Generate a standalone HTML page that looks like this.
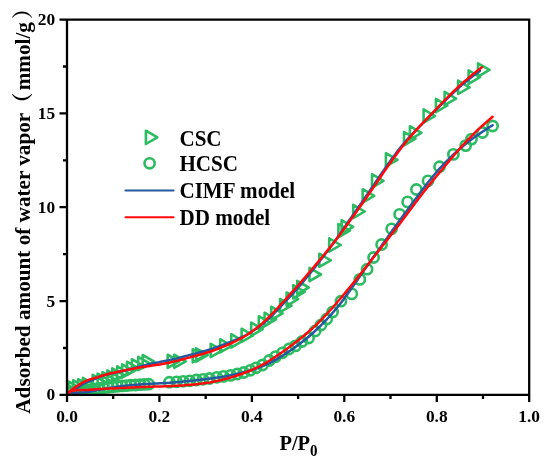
<!DOCTYPE html>
<html lang="en"><head><meta charset="utf-8"><title>Water vapor adsorption isotherms</title>
<style>html,body{margin:0;padding:0;background:#fff}body{width:550px;height:462px;overflow:hidden}svg{display:block}</style></head>
<body>
<svg width="550" height="462" viewBox="0 0 550 462">
<rect width="550" height="462" fill="#fff"/>
<defs><clipPath id="pc"><rect x="67.0" y="19.6" width="462.2" height="375.3"/></clipPath></defs>
<g clip-path="url(#pc)" fill="none" stroke-linejoin="round" stroke-linecap="round">
<path stroke="#2dbb62" stroke-width="2.6" d="M63.7,382.5 L75.2,389.1 L63.7,395.8Z M68.5,381.5 L80.0,388.1 L68.5,394.8Z M73.3,380.4 L84.8,387.0 L73.3,393.7Z M78.1,379.2 L89.6,385.9 L78.1,392.5Z M82.9,377.9 L94.4,384.6 L82.9,391.2Z M92.7,374.8 L104.2,381.4 L92.7,388.1Z M97.6,373.5 L109.1,380.2 L97.6,386.8Z M102.5,372.2 L114.0,378.8 L102.5,385.5Z M107.4,370.4 L118.9,377.1 L107.4,383.7Z M112.3,368.4 L123.8,375.0 L112.3,381.7Z M117.2,366.3 L128.7,373.0 L117.2,379.6Z M122.1,364.4 L133.6,371.0 L122.1,377.7Z M127.0,361.7 L138.5,368.4 L127.0,375.0Z M131.9,359.2 L143.4,365.8 L131.9,372.5Z M138.2,356.9 L149.7,363.5 L138.2,370.1Z M142.7,355.0 L154.2,361.6 L142.7,368.2Z M167.7,354.7 L179.2,361.3 L167.7,367.9Z M174.2,354.7 L185.7,361.3 L174.2,367.9Z M192.7,349.2 L204.2,355.8 L192.7,362.4Z M196.2,348.4 L207.7,355.0 L196.2,361.6Z M210.7,343.9 L222.2,350.5 L210.7,357.1Z M220.2,339.2 L231.7,345.8 L220.2,352.4Z M231.2,334.2 L242.7,340.9 L231.2,347.5Z M241.6,328.7 L253.1,335.3 L241.6,341.9Z M251.2,322.6 L262.7,329.2 L251.2,335.8Z M258.8,316.2 L270.3,322.9 L258.8,329.5Z M264.6,312.7 L276.1,319.3 L264.6,325.9Z M271.2,306.7 L282.7,313.3 L271.2,319.9Z M280.1,299.0 L291.6,305.6 L280.1,312.2Z M286.6,292.5 L298.1,299.1 L286.6,305.8Z M293.2,285.2 L304.7,291.9 L293.2,298.5Z M297.2,280.9 L308.7,287.5 L297.2,294.1Z M309.5,267.9 L321.0,274.5 L309.5,281.1Z M319.3,253.7 L330.8,260.3 L319.3,266.9Z M329.2,238.3 L340.7,245.0 L329.2,251.7Z M338.4,224.0 L349.9,230.7 L338.4,237.3Z M341.6,220.2 L353.1,226.8 L341.6,233.5Z M353.2,204.8 L364.7,211.5 L353.2,218.2Z M362.7,189.2 L374.2,195.9 L362.7,202.6Z M372.0,174.2 L383.5,180.9 L372.0,187.6Z M385.9,153.2 L397.4,159.8 L385.9,166.5Z M404.0,132.0 L415.5,138.7 L404.0,145.3Z M409.9,126.2 L421.4,132.9 L409.9,139.6Z M423.6,109.3 L435.1,116.0 L423.6,122.7Z M435.9,98.8 L447.4,105.5 L435.9,112.2Z M444.6,91.9 L456.1,98.6 L444.6,105.2Z M458.1,80.6 L469.6,87.3 L458.1,94.0Z M468.6,70.4 L480.1,77.1 L468.6,83.8Z M478.0,63.3 L489.5,69.9 L478.0,76.6Z"/>
<g stroke="#2dbb62" stroke-width="2.6"><circle cx="67.8" cy="392.7" r="5.1"/><circle cx="72.3" cy="392.1" r="5.1"/><circle cx="76.8" cy="391.4" r="5.1"/><circle cx="81.3" cy="390.8" r="5.1"/><circle cx="85.8" cy="390.2" r="5.1"/><circle cx="90.3" cy="389.6" r="5.1"/><circle cx="94.8" cy="389.0" r="5.1"/><circle cx="99.3" cy="388.4" r="5.1"/><circle cx="103.8" cy="387.8" r="5.1"/><circle cx="108.3" cy="387.3" r="5.1"/><circle cx="112.8" cy="386.8" r="5.1"/><circle cx="117.3" cy="386.3" r="5.1"/><circle cx="121.8" cy="385.9" r="5.1"/><circle cx="126.3" cy="385.6" r="5.1"/><circle cx="130.8" cy="385.2" r="5.1"/><circle cx="135.3" cy="385.0" r="5.1"/><circle cx="139.8" cy="384.7" r="5.1"/><circle cx="144.3" cy="384.4" r="5.1"/><circle cx="148.8" cy="384.2" r="5.1"/><circle cx="169.4" cy="382.2" r="5.1"/><circle cx="176.6" cy="381.8" r="5.1"/><circle cx="183.2" cy="381.3" r="5.1"/><circle cx="189.7" cy="380.8" r="5.1"/><circle cx="196.4" cy="380.0" r="5.1"/><circle cx="203.0" cy="379.3" r="5.1"/><circle cx="209.5" cy="378.5" r="5.1"/><circle cx="216.8" cy="377.3" r="5.1"/><circle cx="223.4" cy="376.4" r="5.1"/><circle cx="230.6" cy="375.4" r="5.1"/><circle cx="237.2" cy="374.0" r="5.1"/><circle cx="243.7" cy="372.5" r="5.1"/><circle cx="250.3" cy="370.3" r="5.1"/><circle cx="256.1" cy="367.8" r="5.1"/><circle cx="262.6" cy="365.0" r="5.1"/><circle cx="269.3" cy="360.5" r="5.1"/><circle cx="275.6" cy="356.6" r="5.1"/><circle cx="282.5" cy="352.8" r="5.1"/><circle cx="289.0" cy="349.0" r="5.1"/><circle cx="295.5" cy="345.9" r="5.1"/><circle cx="302.0" cy="341.5" r="5.1"/><circle cx="308.6" cy="338.0" r="5.1"/><circle cx="315.2" cy="331.0" r="5.1"/><circle cx="321.0" cy="325.0" r="5.1"/><circle cx="326.8" cy="319.0" r="5.1"/><circle cx="332.6" cy="312.0" r="5.1"/><circle cx="340.9" cy="301.2" r="5.1"/><circle cx="351.8" cy="293.9" r="5.1"/><circle cx="359.8" cy="279.4" r="5.1"/><circle cx="367.1" cy="269.2" r="5.1"/><circle cx="373.6" cy="257.5" r="5.1"/><circle cx="381.6" cy="244.5" r="5.1"/><circle cx="391.6" cy="228.8" r="5.1"/><circle cx="399.6" cy="214.3" r="5.1"/><circle cx="407.6" cy="201.9" r="5.1"/><circle cx="416.4" cy="189.5" r="5.1"/><circle cx="428.0" cy="180.8" r="5.1"/><circle cx="439.5" cy="166.7" r="5.1"/><circle cx="453.4" cy="154.4" r="5.1"/><circle cx="465.7" cy="145.6" r="5.1"/><circle cx="471.5" cy="139.1" r="5.1"/><circle cx="482.5" cy="132.5" r="5.1"/><circle cx="492.6" cy="126.0" r="5.1"/></g>
<path stroke="#24589f" stroke-width="2.5" d="M67.0,394.9 L67.6,394.3 L68.3,393.7 L68.9,393.2 L68.9,393.1 L69.6,392.6 L70.2,392.1 L70.8,391.6 L70.8,391.6 L71.5,391.1 L72.1,390.6 L72.7,390.2 L72.8,390.2 L73.4,389.8 L74.1,389.4 L74.6,389.1 L74.7,389.0 L75.3,388.7 L76.0,388.3 L76.5,388.1 L76.6,388.0 L77.3,387.6 L77.9,387.2 L78.4,387.0 L78.5,386.9 L79.2,386.5 L79.8,386.0 L80.3,385.8 L80.5,385.6 L81.1,385.2 L81.7,384.8 L82.2,384.6 L82.4,384.4 L83.0,384.1 L83.7,383.7 L84.1,383.5 L84.3,383.4 L84.9,383.1 L85.6,382.8 L85.9,382.6 L86.2,382.5 L86.9,382.2 L87.5,381.9 L87.8,381.8 L88.2,381.7 L88.8,381.4 L89.4,381.1 L89.7,381.0 L90.1,380.9 L90.7,380.7 L91.4,380.4 L91.6,380.3 L92.0,380.2 L94.0,379.3 L96.0,378.4 L98.0,377.5 L100.0,376.7 L102.0,376.0 L104.0,375.4 L106.0,374.8 L108.0,374.2 L110.0,373.7 L112.0,373.2 L114.0,372.8 L116.0,372.4 L118.0,372.0 L120.0,371.5 L122.0,371.1 L124.0,370.7 L126.0,370.2 L128.0,369.8 L130.0,369.3 L132.0,368.8 L134.0,368.2 L136.0,367.6 L138.0,367.0 L140.0,366.5 L142.0,366.0 L144.0,365.5 L146.0,365.0 L148.0,364.5 L150.0,364.1 L152.0,363.6 L154.0,363.2 L156.0,362.8 L158.0,362.4 L160.0,362.0 L162.0,361.6 L164.0,361.2 L166.0,360.8 L168.0,360.4 L170.0,360.0 L172.0,359.5 L174.0,359.1 L176.0,358.6 L178.0,358.1 L180.0,357.6 L182.0,357.0 L184.0,356.5 L186.0,356.0 L188.0,355.5 L190.0,354.9 L192.0,354.4 L194.0,353.9 L196.0,353.4 L198.0,352.9 L200.0,352.3 L202.0,351.8 L204.0,351.2 L206.0,350.6 L208.0,350.0 L210.0,349.4 L212.0,348.8 L214.0,348.1 L216.0,347.4 L218.0,346.7 L220.0,345.9 L222.0,345.2 L224.0,344.4 L226.0,343.6 L228.0,342.8 L230.0,342.1 L232.0,341.3 L234.0,340.5 L236.0,339.7 L238.0,338.9 L240.0,338.0 L242.0,337.1 L244.0,336.1 L246.0,335.1 L248.0,334.0 L250.0,332.8 L252.0,331.5 L254.0,330.2 L256.0,328.9 L258.0,327.4 L260.0,325.9 L262.0,324.4 L264.0,322.8 L266.0,321.1 L268.0,319.3 L270.0,317.5 L272.0,315.5 L274.0,313.5 L276.0,311.4 L278.0,309.4 L280.0,307.3 L282.0,305.2 L284.0,303.0 L286.0,300.9 L288.0,298.7 L290.0,296.6 L292.0,294.4 L294.0,292.1 L296.0,289.9 L298.0,287.7 L300.0,285.4 L302.0,283.1 L304.0,280.7 L306.0,278.3 L308.0,275.9 L310.0,273.4 L312.0,270.9 L314.0,268.4 L316.0,265.9 L318.0,263.4 L320.0,260.8 L322.0,258.3 L324.0,255.7 L326.0,253.1 L328.0,250.5 L330.0,247.8 L332.0,245.1 L334.0,242.4 L336.0,239.6 L338.0,236.8 L340.0,233.9 L342.0,230.9 L344.0,228.0 L346.0,225.1 L348.0,222.1 L350.0,219.3 L352.0,216.4 L354.0,213.6 L356.0,210.7 L358.0,207.8 L360.0,205.0 L362.0,202.1 L364.0,199.2 L366.0,196.3 L368.0,193.4 L370.0,190.4 L372.0,187.5 L374.0,184.6 L376.0,181.7 L378.0,178.7 L380.0,175.8 L382.0,172.8 L384.0,169.9 L386.0,167.1 L388.0,164.2 L390.0,161.4 L392.0,158.6 L394.0,155.9 L396.0,153.2 L398.0,150.6 L400.0,148.0 L402.0,145.6 L404.0,143.2 L406.0,140.8 L408.0,138.6 L410.0,136.4 L412.0,134.3 L414.0,132.2 L416.0,130.1 L418.0,128.0 L420.0,126.0 L422.0,124.0 L424.0,121.9 L426.0,119.9 L428.0,117.9 L430.0,115.9 L432.0,113.9 L434.0,111.9 L436.0,109.9 L438.0,107.8 L440.0,105.8 L442.0,103.8 L444.0,101.8 L446.0,99.8 L448.0,97.9 L450.0,95.9 L452.0,94.0 L454.0,92.1 L456.0,90.3 L458.0,88.4 L460.0,86.7 L462.0,84.9 L464.0,83.2 L466.0,81.5 L468.0,79.9 L470.0,78.3 L472.0,76.7 L474.0,75.2 L476.0,73.7 L478.0,72.2 L480.0,70.7"/>
<path stroke="#24589f" stroke-width="2.5" d="M67.0,394.9 L67.6,394.6 L68.3,394.2 L68.9,393.9 L68.9,393.9 L69.6,393.7 L70.2,393.6 L70.8,393.4 L70.9,393.4 L71.5,393.3 L72.1,393.2 L72.8,393.1 L72.8,393.1 L73.4,393.1 L74.1,393.0 L74.7,392.9 L74.8,392.9 L75.3,392.9 L76.0,392.8 L76.6,392.8 L76.7,392.8 L77.3,392.7 L77.9,392.7 L78.5,392.7 L78.7,392.7 L79.2,392.6 L79.8,392.6 L80.5,392.6 L80.6,392.6 L81.1,392.5 L81.7,392.5 L82.4,392.5 L82.5,392.5 L83.0,392.4 L83.7,392.4 L84.3,392.4 L84.5,392.3 L84.9,392.3 L85.6,392.2 L86.2,392.2 L86.4,392.1 L86.9,392.1 L87.5,392.0 L88.2,391.9 L88.4,391.8 L88.8,391.8 L89.4,391.7 L90.1,391.5 L90.3,391.5 L90.7,391.4 L91.4,391.3 L92.0,391.2 L94.0,390.8 L96.0,390.4 L98.0,390.1 L100.0,389.7 L102.0,389.4 L104.0,389.0 L106.0,388.6 L108.0,388.3 L110.0,388.0 L112.0,387.6 L114.0,387.3 L116.0,386.9 L118.0,386.6 L120.0,386.4 L122.0,386.1 L124.0,385.9 L126.0,385.7 L128.0,385.5 L130.0,385.3 L132.0,385.1 L134.0,384.9 L136.0,384.7 L138.0,384.6 L140.0,384.4 L142.0,384.3 L144.0,384.1 L146.0,384.0 L148.0,383.9 L150.0,383.8 L152.0,383.7 L154.0,383.6 L156.0,383.5 L158.0,383.4 L160.0,383.3 L162.0,383.2 L164.0,383.1 L166.0,383.0 L168.0,382.9 L170.0,382.7 L172.0,382.6 L174.0,382.4 L176.0,382.2 L178.0,382.1 L180.0,381.9 L182.0,381.7 L184.0,381.5 L186.0,381.3 L188.0,381.1 L190.0,380.9 L192.0,380.7 L194.0,380.5 L196.0,380.3 L198.0,380.1 L200.0,379.8 L202.0,379.6 L204.0,379.4 L206.0,379.1 L208.0,378.9 L210.0,378.6 L212.0,378.4 L214.0,378.1 L216.0,377.8 L218.0,377.5 L220.0,377.2 L222.0,376.9 L224.0,376.5 L226.0,376.2 L228.0,375.8 L230.0,375.4 L232.0,375.0 L234.0,374.6 L236.0,374.1 L238.0,373.7 L240.0,373.2 L242.0,372.7 L244.0,372.2 L246.0,371.7 L248.0,371.1 L250.0,370.5 L252.0,369.9 L254.0,369.3 L256.0,368.6 L258.0,367.9 L260.0,367.1 L262.0,366.4 L264.0,365.5 L266.0,364.7 L268.0,363.7 L270.0,362.8 L272.0,361.8 L274.0,360.7 L276.0,359.6 L278.0,358.4 L280.0,357.2 L282.0,356.0 L284.0,354.7 L286.0,353.4 L288.0,352.1 L290.0,350.8 L292.0,349.4 L294.0,348.0 L296.0,346.6 L298.0,345.1 L300.0,343.6 L302.0,342.1 L304.0,340.5 L306.0,338.9 L308.0,337.3 L310.0,335.5 L312.0,333.8 L314.0,332.0 L316.0,330.1 L318.0,328.2 L320.0,326.3 L322.0,324.3 L324.0,322.2 L326.0,320.1 L328.0,318.0 L330.0,315.8 L332.0,313.6 L334.0,311.3 L336.0,308.9 L338.0,306.5 L340.0,304.0 L342.0,301.5 L344.0,298.8 L346.0,296.1 L348.0,293.3 L350.0,290.5 L352.0,287.6 L354.0,284.7 L356.0,281.9 L358.0,279.0 L360.0,276.1 L362.0,273.3 L364.0,270.4 L366.0,267.6 L368.0,264.7 L370.0,261.9 L372.0,259.1 L374.0,256.3 L376.0,253.5 L378.0,250.7 L380.0,247.9 L382.0,245.1 L384.0,242.3 L386.0,239.5 L388.0,236.7 L390.0,233.9 L392.0,231.1 L394.0,228.3 L396.0,225.5 L398.0,222.8 L400.0,220.0 L402.0,217.3 L404.0,214.6 L406.0,211.9 L408.0,209.2 L410.0,206.5 L412.0,203.8 L414.0,201.1 L416.0,198.4 L418.0,195.7 L420.0,193.0 L422.0,190.3 L424.0,187.7 L426.0,185.1 L428.0,182.5 L430.0,180.0 L432.0,177.5 L434.0,175.1 L436.0,172.7 L438.0,170.4 L440.0,168.2 L442.0,166.0 L444.0,163.9 L446.0,161.8 L448.0,159.8 L450.0,157.8 L452.0,155.9 L454.0,154.0 L456.0,152.2 L458.0,150.4 L460.0,148.7 L462.0,147.0 L464.0,145.3 L466.0,143.7 L468.0,142.1 L470.0,140.6 L472.0,139.1 L474.0,137.6 L476.0,136.2 L478.0,134.8 L480.0,133.4 L482.0,132.0 L484.0,130.7 L486.0,129.4 L488.0,128.1 L490.0,126.8 L492.0,125.6 L492.6,125.2"/>
<path stroke="#ff0a0a" stroke-width="2.5" d="M67.0,394.9 L67.6,394.1 L68.3,393.3 L68.9,392.6 L68.9,392.6 L69.6,391.9 L70.2,391.2 L70.8,390.6 L70.8,390.6 L71.5,390.0 L72.1,389.4 L72.7,389.0 L72.8,388.9 L73.4,388.4 L74.1,388.0 L74.6,387.6 L74.7,387.5 L75.3,387.1 L76.0,386.7 L76.5,386.4 L76.6,386.3 L77.3,385.9 L77.9,385.5 L78.4,385.2 L78.5,385.1 L79.2,384.7 L79.8,384.2 L80.3,384.0 L80.5,383.8 L81.1,383.4 L81.7,383.0 L82.2,382.8 L82.4,382.7 L83.0,382.3 L83.7,382.0 L84.1,381.8 L84.3,381.7 L84.9,381.4 L85.6,381.1 L85.9,380.9 L86.2,380.8 L86.9,380.6 L87.5,380.3 L87.8,380.2 L88.2,380.1 L88.8,379.8 L89.4,379.6 L89.7,379.5 L90.1,379.4 L90.7,379.2 L91.4,379.0 L91.6,378.9 L92.0,378.8 L94.0,378.3 L96.0,377.7 L98.0,377.1 L100.0,376.4 L102.0,375.8 L104.0,375.2 L106.0,374.6 L108.0,374.0 L110.0,373.5 L112.0,373.1 L114.0,372.7 L116.0,372.2 L118.0,371.8 L120.0,371.4 L122.0,371.0 L124.0,370.6 L126.0,370.1 L128.0,369.7 L130.0,369.3 L132.0,368.9 L134.0,368.6 L136.0,368.2 L138.0,367.8 L140.0,367.5 L142.0,367.1 L144.0,366.8 L146.0,366.5 L148.0,366.2 L150.0,365.9 L152.0,365.6 L154.0,365.3 L156.0,365.0 L158.0,364.7 L160.0,364.4 L162.0,364.1 L164.0,363.7 L166.0,363.3 L168.0,362.9 L170.0,362.5 L172.0,362.0 L174.0,361.6 L176.0,361.1 L178.0,360.6 L180.0,360.0 L182.0,359.5 L184.0,359.0 L186.0,358.4 L188.0,357.9 L190.0,357.4 L192.0,356.8 L194.0,356.3 L196.0,355.8 L198.0,355.2 L200.0,354.7 L202.0,354.1 L204.0,353.5 L206.0,352.9 L208.0,352.3 L210.0,351.7 L212.0,351.0 L214.0,350.3 L216.0,349.6 L218.0,348.8 L220.0,348.0 L222.0,347.2 L224.0,346.4 L226.0,345.6 L228.0,344.7 L230.0,343.8 L232.0,342.9 L234.0,342.0 L236.0,341.0 L238.0,340.0 L240.0,338.9 L242.0,337.8 L244.0,336.7 L246.0,335.5 L248.0,334.2 L250.0,332.9 L252.0,331.5 L254.0,330.1 L256.0,328.6 L258.0,327.0 L260.0,325.3 L262.0,323.6 L264.0,321.8 L266.0,319.9 L268.0,317.9 L270.0,316.0 L272.0,313.9 L274.0,311.8 L276.0,309.7 L278.0,307.6 L280.0,305.4 L282.0,303.2 L284.0,301.1 L286.0,298.9 L288.0,296.7 L290.0,294.4 L292.0,292.2 L294.0,290.0 L296.0,287.7 L298.0,285.5 L300.0,283.2 L302.0,280.9 L304.0,278.6 L306.0,276.2 L308.0,273.9 L310.0,271.5 L312.0,269.2 L314.0,266.8 L316.0,264.4 L318.0,262.0 L320.0,259.6 L322.0,257.2 L324.0,254.8 L326.0,252.3 L328.0,249.8 L330.0,247.4 L332.0,244.8 L334.0,242.3 L336.0,239.7 L338.0,237.1 L340.0,234.4 L342.0,231.7 L344.0,229.0 L346.0,226.3 L348.0,223.5 L350.0,220.8 L352.0,218.0 L354.0,215.2 L356.0,212.4 L358.0,209.6 L360.0,206.7 L362.0,203.9 L364.0,201.0 L366.0,198.2 L368.0,195.3 L370.0,192.4 L372.0,189.5 L374.0,186.6 L376.0,183.6 L378.0,180.7 L380.0,177.8 L382.0,174.8 L384.0,171.9 L386.0,169.0 L388.0,166.1 L390.0,163.2 L392.0,160.4 L394.0,157.6 L396.0,154.9 L398.0,152.2 L400.0,149.5 L402.0,147.0 L404.0,144.4 L406.0,142.0 L408.0,139.5 L410.0,137.2 L412.0,134.9 L414.0,132.6 L416.0,130.4 L418.0,128.2 L420.0,126.0 L422.0,123.9 L424.0,121.8 L426.0,119.7 L428.0,117.6 L430.0,115.5 L432.0,113.4 L434.0,111.3 L436.0,109.3 L438.0,107.2 L440.0,105.1 L442.0,103.1 L444.0,101.0 L446.0,99.0 L448.0,96.9 L450.0,94.9 L452.0,93.0 L454.0,91.0 L456.0,89.1 L458.0,87.2 L460.0,85.4 L462.0,83.6 L464.0,81.8 L466.0,80.1 L468.0,78.4 L470.0,76.7 L472.0,75.0 L474.0,73.4 L476.0,71.8 L478.0,70.2 L480.0,68.7 L481.9,67.2"/>
<path stroke="#ff0a0a" stroke-width="2.5" d="M67.0,394.9 L67.6,393.9 L68.3,393.0 L68.9,392.4 L68.9,392.3 L69.6,391.9 L70.2,391.5 L70.8,391.2 L70.9,391.2 L71.5,391.0 L72.1,390.8 L72.8,390.7 L72.8,390.7 L73.4,390.6 L74.1,390.5 L74.7,390.4 L74.8,390.4 L75.3,390.3 L76.0,390.2 L76.6,390.2 L76.7,390.2 L77.3,390.1 L77.9,390.1 L78.5,390.1 L78.7,390.1 L79.2,390.0 L79.8,390.0 L80.5,390.0 L80.6,390.0 L81.1,390.0 L81.7,390.0 L82.4,390.0 L82.5,390.0 L83.0,390.0 L83.7,389.9 L84.3,389.9 L84.5,389.9 L84.9,389.9 L85.6,389.9 L86.2,389.9 L86.4,389.9 L86.9,389.9 L87.5,389.9 L88.2,389.9 L88.4,389.9 L88.8,389.8 L89.4,389.8 L90.1,389.8 L90.3,389.8 L90.7,389.7 L91.4,389.7 L92.0,389.6 L94.0,389.4 L96.0,389.2 L98.0,389.1 L100.0,389.0 L102.0,388.9 L104.0,388.8 L106.0,388.7 L108.0,388.6 L110.0,388.5 L112.0,388.5 L114.0,388.4 L116.0,388.3 L118.0,388.2 L120.0,388.1 L122.0,388.0 L124.0,387.9 L126.0,387.8 L128.0,387.7 L130.0,387.6 L132.0,387.5 L134.0,387.4 L136.0,387.3 L138.0,387.2 L140.0,387.1 L142.0,387.1 L144.0,387.0 L146.0,386.9 L148.0,386.8 L150.0,386.8 L152.0,386.7 L154.0,386.6 L156.0,386.6 L158.0,386.5 L160.0,386.5 L162.0,386.4 L164.0,386.3 L166.0,386.2 L168.0,386.2 L170.0,386.1 L172.0,386.0 L174.0,385.9 L176.0,385.8 L178.0,385.7 L180.0,385.5 L182.0,385.4 L184.0,385.3 L186.0,385.1 L188.0,385.0 L190.0,384.8 L192.0,384.7 L194.0,384.5 L196.0,384.3 L198.0,384.1 L200.0,383.8 L202.0,383.6 L204.0,383.3 L206.0,383.0 L208.0,382.7 L210.0,382.4 L212.0,382.0 L214.0,381.6 L216.0,381.2 L218.0,380.8 L220.0,380.3 L222.0,379.9 L224.0,379.3 L226.0,378.8 L228.0,378.3 L230.0,377.7 L232.0,377.1 L234.0,376.5 L236.0,375.8 L238.0,375.2 L240.0,374.5 L242.0,373.8 L244.0,373.0 L246.0,372.3 L248.0,371.5 L250.0,370.6 L252.0,369.8 L254.0,368.9 L256.0,368.0 L258.0,367.0 L260.0,366.0 L262.0,364.9 L264.0,363.8 L266.0,362.7 L268.0,361.5 L270.0,360.3 L272.0,359.0 L274.0,357.7 L276.0,356.4 L278.0,355.1 L280.0,353.7 L282.0,352.3 L284.0,350.9 L286.0,349.5 L288.0,348.0 L290.0,346.6 L292.0,345.1 L294.0,343.6 L296.0,342.1 L298.0,340.5 L300.0,338.9 L302.0,337.3 L304.0,335.7 L306.0,334.0 L308.0,332.3 L310.0,330.5 L312.0,328.7 L314.0,326.9 L316.0,325.0 L318.0,323.1 L320.0,321.1 L322.0,319.1 L324.0,317.0 L326.0,314.9 L328.0,312.7 L330.0,310.5 L332.0,308.3 L334.0,306.0 L336.0,303.7 L338.0,301.3 L340.0,299.0 L342.0,296.6 L344.0,294.2 L346.0,291.8 L348.0,289.4 L350.0,287.0 L352.0,284.5 L354.0,282.1 L356.0,279.6 L358.0,277.1 L360.0,274.6 L362.0,272.1 L364.0,269.6 L366.0,267.0 L368.0,264.5 L370.0,261.9 L372.0,259.3 L374.0,256.8 L376.0,254.2 L378.0,251.6 L380.0,249.1 L382.0,246.5 L384.0,244.0 L386.0,241.4 L388.0,238.9 L390.0,236.3 L392.0,233.7 L394.0,231.2 L396.0,228.6 L398.0,226.0 L400.0,223.4 L402.0,220.7 L404.0,218.1 L406.0,215.4 L408.0,212.8 L410.0,210.1 L412.0,207.4 L414.0,204.7 L416.0,202.1 L418.0,199.4 L420.0,196.8 L422.0,194.2 L424.0,191.6 L426.0,189.1 L428.0,186.5 L430.0,184.1 L432.0,181.6 L434.0,179.2 L436.0,176.8 L438.0,174.4 L440.0,172.0 L442.0,169.6 L444.0,167.2 L446.0,164.8 L448.0,162.4 L450.0,160.0 L452.0,157.7 L454.0,155.3 L456.0,153.0 L458.0,150.7 L460.0,148.4 L462.0,146.2 L464.0,144.0 L466.0,141.8 L468.0,139.7 L470.0,137.6 L472.0,135.6 L474.0,133.6 L476.0,131.6 L478.0,129.7 L480.0,127.9 L482.0,126.0 L484.0,124.2 L486.0,122.5 L488.0,120.7 L490.0,119.0 L492.0,117.3 L492.6,116.8"/>
</g>
<path fill="none" stroke="#000" stroke-width="2.3" d="M67.0,19.6 H529.2 V402.09999999999997 M67.0,19.6 V402.09999999999997 M59.5,394.9 H529.2 M59.5,301.1 H67.0 M59.5,207.2 H67.0 M59.5,113.4 H67.0 M59.5,19.6 H67.0 M63.0,348.0 H67.0 M63.0,254.2 H67.0 M63.0,160.3 H67.0 M63.0,66.5 H67.0 M159.4,394.9 V402.09999999999997 M251.9,394.9 V402.09999999999997 M344.3,394.9 V402.09999999999997 M436.8,394.9 V402.09999999999997 M113.2,394.9 V398.9 M205.7,394.9 V398.9 M298.1,394.9 V398.9 M390.5,394.9 V398.9 M483.0,394.9 V398.9"/>
<g font-family="'Liberation Serif', 'Noto Serif CJK SC', serif" font-weight="bold" fill="#000">
<g font-size="17.4" text-anchor="end">
<text transform="translate(55.2,400.3) scale(1,0.96)">0</text>
<text transform="translate(55.2,306.5) scale(1,0.96)">5</text>
<text transform="translate(55.2,212.7) scale(1,0.96)">10</text>
<text transform="translate(55.2,118.8) scale(1,0.96)">15</text>
<text transform="translate(55.2,25.0) scale(1,0.96)">20</text>
</g><g font-size="17.4" text-anchor="middle">
<text transform="translate(67.0,421.6) scale(1,1.0)">0.0</text>
<text transform="translate(159.4,421.6) scale(1,1.0)">0.2</text>
<text transform="translate(251.9,421.6) scale(1,1.0)">0.4</text>
<text transform="translate(344.3,421.6) scale(1,1.0)">0.6</text>
<text transform="translate(436.8,421.6) scale(1,1.0)">0.8</text>
<text transform="translate(529.2,421.6) scale(1,1.0)">1.0</text>
</g>
<text transform="translate(279.4,450.3) scale(1,1.05)" font-size="20.5">P/P<tspan font-size="15" dy="5.4">0</tspan></text>
<text transform="translate(29.9,413.7) rotate(-90)" font-size="21.2">Adsorbed amount of water vapor<tspan dx="-1">（</tspan><tspan dx="2.2">mmol/g</tspan><tspan dx="3.2">）</tspan></text>
<g font-size="21.1">
<text transform="translate(179.4,145.7) scale(1,1.07)">CSC</text>
<text transform="translate(179.4,171.3) scale(1,1.07)">HCSC</text>
<text transform="translate(179.4,198.4) scale(1,1.07)">CIMF model</text>
<text transform="translate(179.4,224.5) scale(1,1.07)">DD model</text>
</g></g>
<g fill="none" stroke-linejoin="round" stroke-linecap="round"><path stroke="#2dbb62" stroke-width="2.6" d="M145.9,130.7 L157.4,137.3 L145.9,144.0Z"/>
<circle cx="149.6" cy="163.3" r="5.1" stroke="#2dbb62" stroke-width="2.6"/>
<path stroke="#24589f" stroke-width="2.1" d="M125.5,190.5 H173.5"/>
<path stroke="#ff0a0a" stroke-width="2.1" d="M125.5,217.2 H173.5"/></g>
</svg>
</body></html>
